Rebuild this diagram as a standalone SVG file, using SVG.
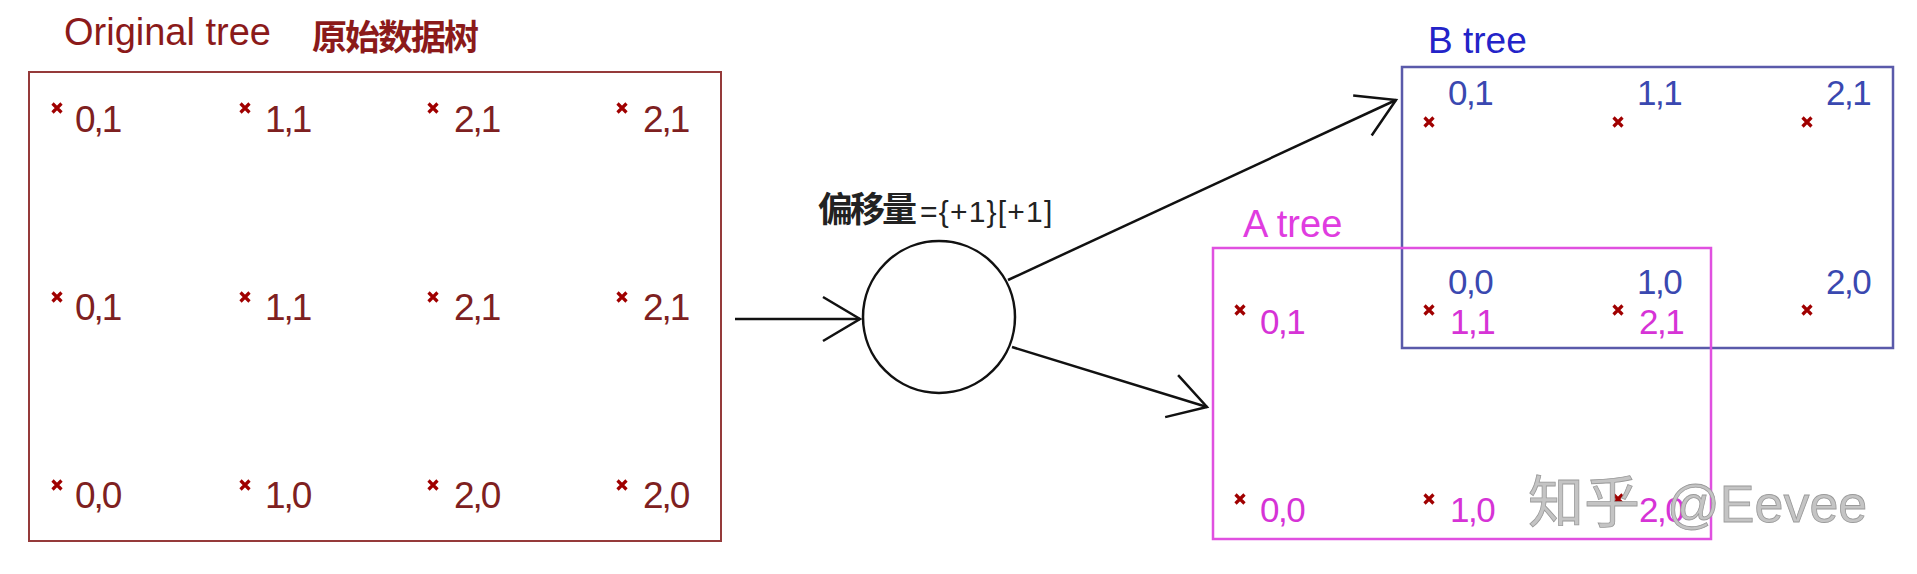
<svg xmlns="http://www.w3.org/2000/svg" xmlns:xlink="http://www.w3.org/1999/xlink" width="1917" height="574" viewBox="0 0 1917 574">
<style>
.lat{font-family:"Liberation Sans",Arial,sans-serif}
.cjk{font-family:"Noto Sans CJK SC","Liberation Sans",sans-serif;font-weight:bold}
.red{fill:#7e2020;font-size:37px;letter-spacing:-2px}
.blu{fill:#3a48b0;font-size:35px;letter-spacing:-1.5px}
.mag{fill:#d633d6;font-size:35px;letter-spacing:-1.5px}
.conn{stroke:#111;stroke-width:2.5;fill:none}
</style>
<defs>
<path id="x" d="M-4.5,-4.5L4.5,4.5M4.5,-4.5L-4.5,4.5" stroke="#a00000" stroke-width="3.2" fill="none"/>
<marker id="arr" markerUnits="userSpaceOnUse" orient="auto" refX="0" refY="0" markerWidth="60" markerHeight="60" viewBox="-50 -30 60 60" overflow="visible">
<path d="M-37,-22L0,0L-37,22" stroke="#111" stroke-width="2.5" fill="none"/>
</marker>
</defs>
<rect width="1917" height="574" fill="#fff"/>

<g id="original-tree">
<text class="lat" x="64" y="45" font-size="38" fill="#8b1a1a">Original tree</text>
<text class="cjk" x="312" y="50" font-size="35" letter-spacing="-2" fill="#8b1a1a">原始数据树</text>
<rect x="29" y="72" width="692" height="469" fill="none" stroke="#953a3a" stroke-width="2"/>
<use xlink:href="#x" x="57" y="108"/><use xlink:href="#x" x="245" y="108"/><use xlink:href="#x" x="433" y="108"/><use xlink:href="#x" x="622" y="108"/>
<use xlink:href="#x" x="57" y="297"/><use xlink:href="#x" x="245" y="297"/><use xlink:href="#x" x="433" y="297"/><use xlink:href="#x" x="622" y="297"/>
<use xlink:href="#x" x="57" y="485"/><use xlink:href="#x" x="245" y="485"/><use xlink:href="#x" x="433" y="485"/><use xlink:href="#x" x="622" y="485"/>
<g class="lat red">
<text x="75" y="132">0,1</text><text x="265" y="132">1,1</text><text x="454" y="132">2,1</text><text x="643" y="132">2,1</text>
<text x="75" y="320">0,1</text><text x="265" y="320">1,1</text><text x="454" y="320">2,1</text><text x="643" y="320">2,1</text>
<text x="75" y="508">0,0</text><text x="265" y="508">1,0</text><text x="454" y="508">2,0</text><text x="643" y="508">2,0</text>
</g>
</g>

<g id="offset-node">
<text class="cjk" x="818" y="222" font-size="35" letter-spacing="-3" fill="#222">偏移量</text>
<text class="lat" x="920" y="222" font-size="30" letter-spacing="1.2" fill="#222">={+1}[+1]</text>
<circle cx="939" cy="317" r="76" fill="#fff" stroke="#111" stroke-width="2.5"/>
</g>

<g id="b-tree">
<text class="lat" x="1428" y="53" font-size="37" fill="#2323c8">B tree</text>
<rect x="1402" y="67" width="491" height="281" fill="none" stroke="#5a5aaa" stroke-width="2.5"/>
<use xlink:href="#x" x="1429" y="122"/><use xlink:href="#x" x="1618" y="122"/><use xlink:href="#x" x="1807" y="122"/>
<use xlink:href="#x" x="1807" y="310"/>
<g class="lat blu">
<text x="1448" y="105">0,1</text><text x="1637" y="105">1,1</text><text x="1826" y="105">2,1</text>
<text x="1448" y="294">0,0</text><text x="1637" y="294">1,0</text><text x="1826" y="294">2,0</text>
</g>
</g>

<g id="a-tree">
<text class="lat" x="1243" y="237" font-size="38" fill="#e03ce0">A tree</text>
<rect x="1213" y="248" width="498" height="291" fill="none" stroke="#e050e0" stroke-width="2.5"/>
<use xlink:href="#x" x="1240" y="310"/><use xlink:href="#x" x="1429" y="310"/><use xlink:href="#x" x="1618" y="310"/>
<use xlink:href="#x" x="1240" y="499"/><use xlink:href="#x" x="1429" y="499"/><use xlink:href="#x" x="1618" y="499"/>
<g class="lat mag">
<text x="1260" y="334">0,1</text><text x="1450" y="334">1,1</text><text x="1639" y="334">2,1</text>
<text x="1260" y="522">0,0</text><text x="1450" y="522">1,0</text><text x="1639" y="522">2,0</text>
</g>
</g>

<g id="connectors">
<line class="conn" x1="735" y1="319" x2="860" y2="319" marker-end="url(#arr)"/>
<line class="conn" x1="1008" y1="280" x2="1396" y2="100" marker-end="url(#arr)"/>
<line class="conn" x1="1012" y1="347" x2="1207" y2="407" marker-end="url(#arr)"/>
</g>

<g id="watermark" fill="#c4c4c4" stroke="#9a9a9a" stroke-width="0.8">
<text class="cjk" x="1528" y="522" font-size="56" style="font-weight:normal">知乎</text>
<text class="lat" x="1667" y="522" font-size="52">@Eevee</text>
</g>
</svg>
